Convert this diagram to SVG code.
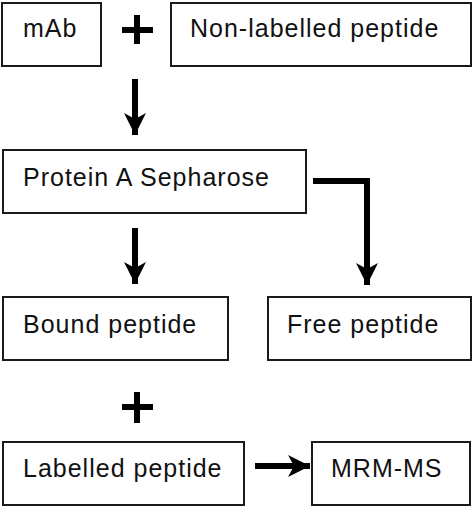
<svg xmlns="http://www.w3.org/2000/svg" width="474" height="508" viewBox="0 0 474 508">
<style>
.box{fill:#fff;stroke:#1a1a1a;stroke-width:2}
.t{font-family:"Liberation Sans",Arial,sans-serif;font-size:25px;fill:#111;letter-spacing:1px}
.c{fill:none;stroke:#000;stroke-width:6}
.plus{fill:#000}
</style>
<defs>
<marker id="ah" markerUnits="userSpaceOnUse" markerWidth="24" markerHeight="24" viewBox="0 0 24 24" refX="22" refY="12" orient="auto">
<path d="M0,1 L22,12 L0,23 L6,12 Z" fill="#000"/>
</marker>
</defs>
<rect width="474" height="508" fill="#fff"/>
<g id="mab"><rect class="box" x="2" y="3" width="99" height="63"/><text class="t" x="23" y="37">mAb</text></g>
<g id="nonlabelled"><rect class="box" x="171" y="3" width="300" height="63"/><text class="t" x="190" y="37">Non-labelled peptide</text></g>
<g id="plus1"><rect class="plus" x="122" y="27" width="31" height="6"/><rect class="plus" x="134" y="15" width="6" height="29"/></g>
<g id="protein"><rect class="box" x="3" y="150" width="303" height="63"/><text class="t" x="23" y="186">Protein A Sepharose</text></g>
<g id="bound"><rect class="box" x="3" y="297" width="225" height="63"/><text class="t" x="23" y="333">Bound peptide</text></g>
<g id="free"><rect class="box" x="268" y="297" width="203" height="63"/><text class="t" x="287" y="333">Free peptide</text></g>
<g id="plus2"><rect class="plus" x="122" y="404" width="31" height="6"/><rect class="plus" x="134" y="392" width="6" height="31"/></g>
<g id="labelled"><rect class="box" x="3" y="442" width="241" height="63"/><text class="t" x="23" y="477">Labelled peptide</text></g>
<g id="mrm"><rect class="box" x="312" y="442" width="158" height="63"/><text class="t" x="331" y="477">MRM-MS</text></g>
<g id="connectors">
<path class="c" d="M135,79 V135" marker-end="url(#ah)"/>
<path class="c" d="M135,228 V284" marker-end="url(#ah)"/>
<path class="c" d="M313,181 H367 V285" marker-end="url(#ah)" stroke-linejoin="miter"/>
<path class="c" d="M255,466 H310" marker-end="url(#ah)"/>
</g>
</svg>
